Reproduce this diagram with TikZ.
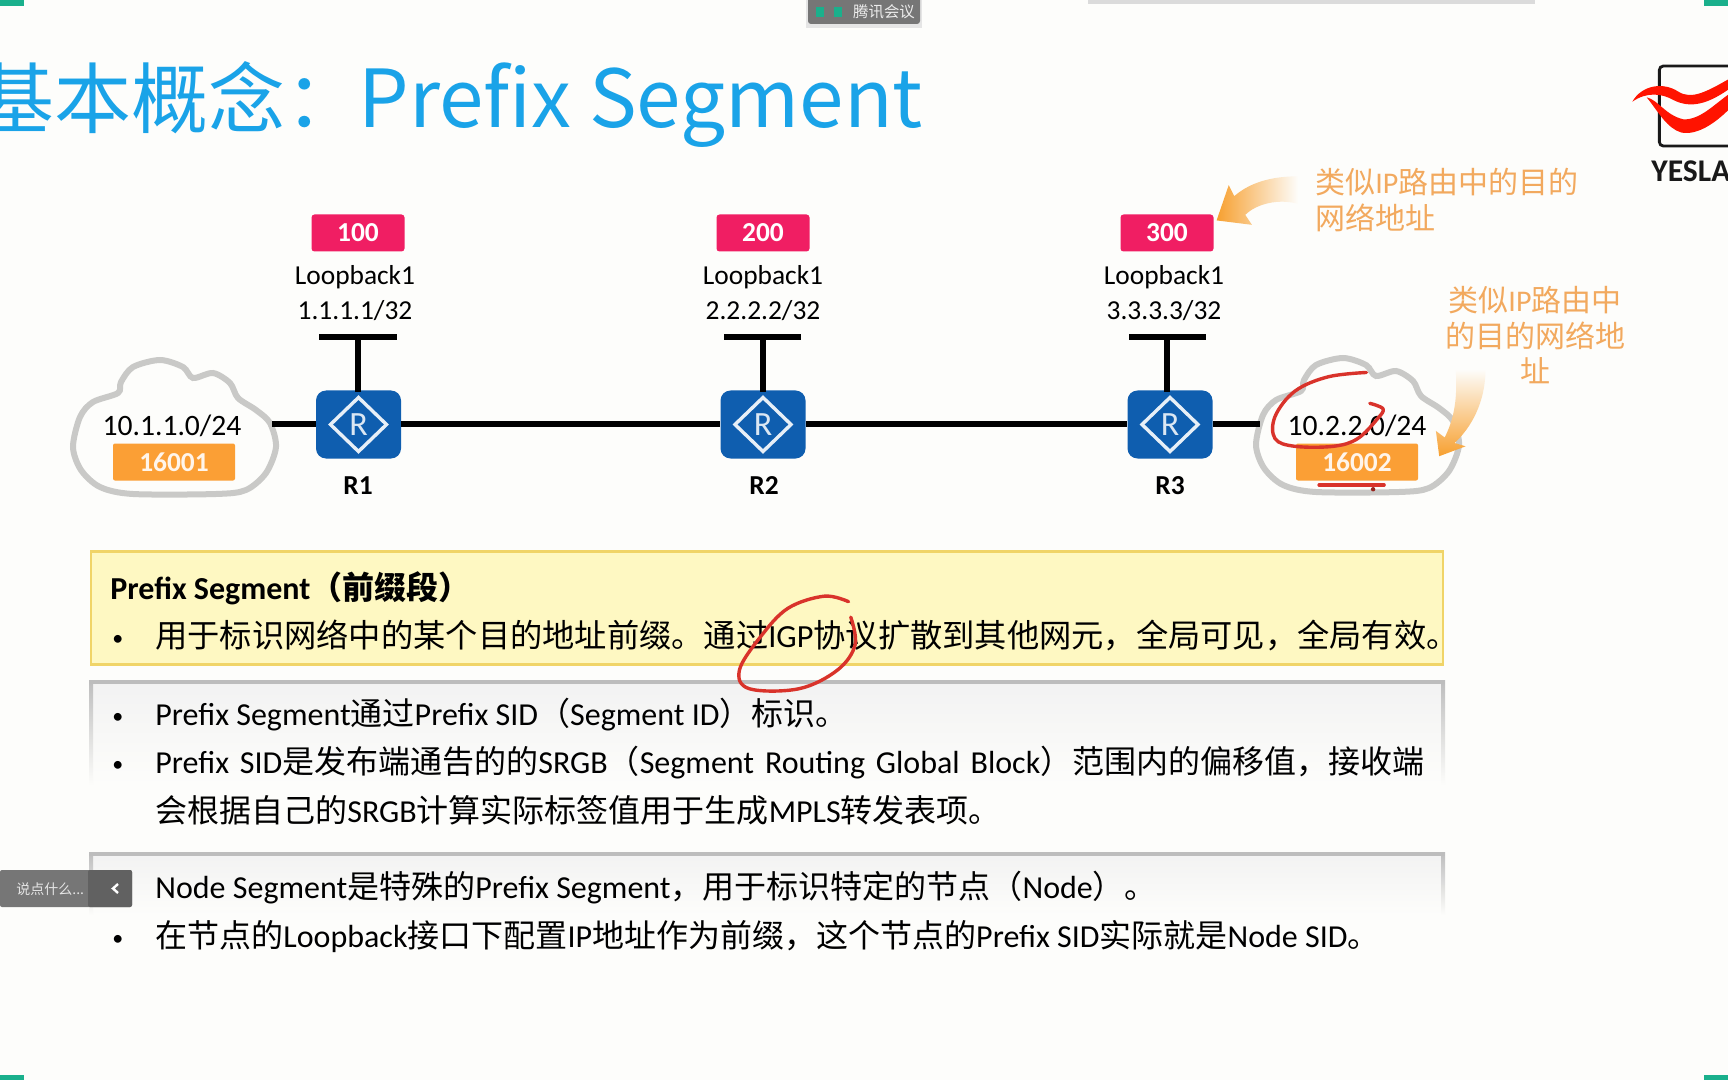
\documentclass[tikz,border=0pt]{standalone}
\usepackage{fontspec}
\setmainfont{Carlito}
\newfontfamily\zhfont{Noto Sans CJK SC}
\newcommand{\zh}[1]{{\zhfont #1}}
\newcommand{\fs}[1]{\fontsize{#1}{#1}\selectfont}
\usetikzlibrary{calc}
\definecolor{pagebg}{HTML}{FDFDFB}
\definecolor{titleblue}{HTML}{1AA3E8}
\definecolor{pinkbox}{HTML}{F01E63}
\definecolor{orangebox}{HTML}{FB9F35}
\definecolor{routerblue}{HTML}{0F5EAF}
\definecolor{cloudgray}{HTML}{C9C9C7}
\definecolor{noteorange}{HTML}{F2A95E}
\definecolor{arroworange}{HTML}{F7A030}
\definecolor{inkred}{HTML}{D9332B}
\definecolor{yellowfill}{HTML}{FEF8C2}
\definecolor{yellowline}{HTML}{F0D468}
\definecolor{panelline}{HTML}{BDBDBD}
\definecolor{panelfill}{HTML}{F2F2F2}
\definecolor{cornergreen}{HTML}{1AB08C}
\definecolor{uigray}{HTML}{767676}
\tikzset{
  x=0.5pt,y=-0.5pt,
  tagpink/.style={fill=pinkbox,rounded corners=1.5pt,inner sep=0,minimum width=46.5pt,minimum height=18.5pt,text=white,font=\fs{13.7}\bfseries},
  tagorange/.style={fill=orangebox,rounded corners=1pt,inner sep=0,minimum width=61pt,minimum height=18.5pt,text=white!92!orange,font=\fs{13.7}\bfseries},
  router/.style={fill=routerblue,rounded corners=5pt,inner sep=0,minimum width=42.5pt,minimum height=34pt,text=white!85!routerblue,font=\fs{17}},
  lbl/.style={inner sep=0,font=\fs{13.7}},
  netlbl/.style={inner sep=0,font=\fs{14.8}},
  rname/.style={inner sep=0,font=\fs{13.7}\bfseries},
  link/.style={line width=3pt,black},
  barline/.style={line width=3.2pt,black},
  body/.style={anchor=base west,inner sep=0,font=\fs{16}},
  dotmark/.style={anchor=base west,inner sep=0,font=\fs{11}},
  note/.style={inner sep=0,text=noteorange,font=\fs{15}\zhfont,align=center},
  ink/.style={draw=inkred,line width=1.7pt,line cap=round,line join=round},
  cloudline/.style={draw=cloudgray,line width=3pt,fill=pagebg},
}
\newcommand{\cloudpath}[2]{%
  \draw[cloudline] plot[smooth cycle,tension=0.5] coordinates {
  ($(#1,#2)+(0,87)$) ($(#1,#2)+(7,57)$) ($(#1,#2)+(20,42)$) ($(#1,#2)+(45,33)$) ($(#1,#2)+(48,22)$)
  ($(#1,#2)+(60,7)$) ($(#1,#2)+(87,0)$) ($(#1,#2)+(110,7)$) ($(#1,#2)+(120,18)$) ($(#1,#2)+(140,13)$)
  ($(#1,#2)+(157,23)$) ($(#1,#2)+(165,38)$) ($(#1,#2)+(183,50)$) ($(#1,#2)+(197,63)$) ($(#1,#2)+(203,87)$)
  ($(#1,#2)+(193,113)$) ($(#1,#2)+(173,130)$) ($(#1,#2)+(143,134)$) ($(#1,#2)+(60,134)$) ($(#1,#2)+(27,127)$) ($(#1,#2)+(8,110)$)};}
\newcommand{\routermark}[1]{%
  \draw[white!90!routerblue,line width=1.7pt,line join=miter] (#1.center) ++(28,0) -- ++(-28,27) -- ++(-28,-27) -- ++(28,-27) -- cycle;}
\newcommand{\panel}[2]{% top y, bottom y
  \shade[top color=panelfill,bottom color=pagebg] (90,#1) rectangle (1444,#2);
  \shade[top color=panelline,bottom color=pagebg] (89,#1) rectangle (93,#2);
  \shade[top color=panelline,bottom color=pagebg] (1441,#1) rectangle (1445,#2);
  \fill[panelline] (89,#1) rectangle (1445,#1+4);}
\begin{document}
\begin{tikzpicture}
\useasboundingbox (0,0) rectangle (1728,1080);
\clip (0,0) rectangle (1728,1080);
\fill[pagebg] (0,0) rectangle (1728,1080);

% title
\node[anchor=base west,inner sep=0,text=titleblue,font=\fs{38.5}\zhfont] (title) at (-23,128) {基本概念：};
\node[anchor=base west,inner sep=0,text=titleblue,font=\fs{40}\zhfont] (titleb) at (358,128) {Prefix Segment};

% logo
\begin{scope}[shift={(1600,50)},x=0.1667pt,y=-0.1667pt]
  \draw[line width=1.4pt,rounded corners=2pt,black!90] (420,48) -- (178,48) -- (178,288) -- (420,288);
  \fill[red!85!orange] (97,155) .. controls (125,105) and (190,95) .. (235,125) .. controls (275,150) and (320,125) .. (390,85) -- (390,115) .. controls (320,165) and (270,175) .. (220,150) .. controls (185,130) and (140,125) .. cycle;
  \fill[red!85!orange] (140,142) .. controls (175,150) and (195,195) .. (250,208) .. controls (300,210) and (340,165) .. (390,130) -- (390,175) .. controls (340,225) and (290,255) .. (245,248) .. controls (200,235) and (175,185) .. cycle;
\end{scope}
\node[anchor=base west,inner sep=0,text=black!90,font=\fs{15.8}\bfseries] (logotext) at (1651,182) {YESLA};

% clouds
\cloudpath{73}{360}
\cloudpath{1256}{358}

% routers
\node[router] (r1) at (358.5,424.5) {R};
\node[router] (r2) at (763,424.5) {R};
\node[router] (r3) at (1170,424.5) {R};
\coordinate (c1e) at (272,423.5);
\coordinate (c2w) at (1260,423.5);
\draw[link] (c1e) -- (r1.west |- c1e);
\draw[link] (r1.east |- c1e) -- (r2.west |- c1e);
\draw[link] (r2.east |- c1e) -- (r3.west |- c1e);
\draw[link] (r3.east |- c1e) -- (c2w);
\routermark{r1}\routermark{r2}\routermark{r3}
\node[rname] (n1) at (358,486) {R1};
\node[rname] (n2) at (764,486) {R2};
\node[rname] (n3) at (1170,486) {R3};

% loopback stubs
\coordinate (b1) at (358,337); \coordinate (b2) at (763,337); \coordinate (b3) at (1167,337);
\draw[barline] (319,337) -- (397,337);
\draw[barline] (724,337) -- (801,337);
\draw[barline] (1129,337) -- (1206,337);
\draw[barline] (b1) -- (358,392);
\draw[barline] (b2) -- (763,392);
\draw[barline] (b3) -- (1167,392);

% tags and labels
\node[tagpink] (t1) at (358,233) {100};
\node[tagpink] (t2) at (763,233) {200};
\node[tagpink] (t3) at (1167,233) {300};
\node[lbl] (l1) at (355,277) {Loopback1};
\node[lbl] (a1) at (355,311) {1.1.1.1/32};
\node[lbl] (l2) at (763,277) {Loopback1};
\node[lbl] (a2) at (763,311) {2.2.2.2/32};
\node[lbl] (l3) at (1164,277) {Loopback1};
\node[lbl] (a3) at (1164,311) {3.3.3.3/32};
\node[netlbl] (p1) at (172,426) {10.1.1.0/24};
\node[netlbl] (p2) at (1357,426) {10.2.2.0/24};
\node[tagorange] (s1) at (174,462) {16001};
\node[tagorange] (s2) at (1357,462) {16002};

% notes
\node[note,anchor=west] (nt1) at (1315,182) {类似{\fontspec{Carlito}IP}路由中的目的};
\node[note,anchor=west] (nt2) at (1315,218) {网络地址};
\node[note] (nt3) at (1535,300) {类似{\fontspec{Carlito}IP}路由中};
\node[note] (nt4) at (1535,336) {的目的网络地};
\node[note] (nt5) at (1535,371) {址};

% main-image coordinates for the free hand marks
\begin{scope}[x=0.551pt,y=-0.551pt]
  \shade[left color=arroworange,right color=pagebg] (1104,200) -- (1115,168) -- (1120,178) .. controls (1135,165) and (1155,160) .. (1178,160) -- (1178,185) .. controls (1160,180) and (1140,185) .. (1130,195) -- (1136,204) -- cycle;
  \shade[top color=pagebg,bottom color=arroworange] (1306,414) -- (1303,391) -- (1311,397) .. controls (1322,375) and (1322,355) .. (1321,335) -- (1348,335) .. controls (1348,365) and (1335,388) .. (1320,402) -- (1330,405) -- cycle;
  \draw[ink] plot[smooth,tension=0.6] coordinates {(1240,338) (1205,342) (1175,355) (1157,378) (1157,398) (1175,405) (1210,405) (1232,398) (1250,380) (1255,371) (1243,366)};
  \draw[ink] (1197,440) -- (1256,440);
  \fill[inkred!70!black] (1246,444) circle (2);
\end{scope}

% yellow box
\node[draw=yellowline,line width=1.2pt,fill=yellowfill,inner sep=0,minimum width=676pt,minimum height=56.5pt] (ybox) at (767,608) {};
\node[body,font=\fs{16}\bfseries] (yhead) at (110,599) {Prefix Segment\zh{（前缀段）}};
\node[dotmark] (yb) at (112,645) {•};
\node[body,font=\fs{16.13}] (y1) at (155,647) {\zh{用于标识网络中的某个目的地址前缀。通过}IGP\zh{协议扩散到其他网元，全局可见，全局有效。}};

% grey panels
\panel{680}{785}
\panel{852}{915}
\node[dotmark] (gb1) at (112,723) {•};
\node[body] (g1) at (155,725) {Prefix Segment\zh{通过}Prefix SID\zh{（}Segment ID\zh{）标识。}};
\node[dotmark] (gb2) at (112,771) {•};
\node[body] (g2) at (155,773) {\hbox to 634.5pt{Prefix SID\zh{是发布端通告的的}SRGB\zh{（}Segment Routing Global Block\zh{）范围内的偏移值，接收端}}};
\node[body] (g3) at (155,822) {\zh{会根据自己的}SRGB\zh{计算实际标签值用于生成}MPLS\zh{转发表项。}};
\node[body] (h1) at (155,898) {Node Segment\zh{是特殊的}Prefix Segment\zh{，用于标识特定的节点（}Node\zh{）。}};
\node[dotmark] (hb2) at (112,945) {•};
\node[body] (h2) at (155,947) {\zh{在节点的}Loopback\zh{接口下配置}IP\zh{地址作为前缀，这个节点的}Prefix SID\zh{实际就是}Node SID\zh{。}};

% red ring
\begin{scope}[x=0.551pt,y=-0.551pt]
  \draw[ink] plot[smooth,tension=0.6] coordinates {(770,546) (748,541) (715,552) (690,578) (671,608) (680,625) (725,625) (760,608) (776,585) (772,560)};
\end{scope}

% screen overlay
\fill[cornergreen] (0,0) rectangle (24,6);
\fill[cornergreen] (1704,0) rectangle (1728,6);
\fill[cornergreen] (0,1075) rectangle (24,1080);
\fill[cornergreen] (1704,1075) rectangle (1728,1080);
\fill[black!14] (1088,0) rectangle (1535,4);
\fill[black!10] (806,0) rectangle (922,28);
\fill[uigray,rounded corners=1.5pt] (808,-6) rectangle (920,24);
\fill[cornergreen] (816,7) rectangle (824,17);
\fill[cornergreen] (834,7) rectangle (842,17);
\node[inner sep=0,text=white!85!gray,font=\fs{7.7}\zhfont] (ui1) at (884,12) {腾讯会议};
\fill[uigray,rounded corners=1pt] (0,870) rectangle (132,907);
\fill[black!62,rounded corners=1pt] (88,870) rectangle (132,907);
\node[anchor=west,inner sep=0,text=white!80!gray,font=\fs{7}\zhfont] (ui2) at (16,889) {说点什么...};
\coordinate (cha) at (118,884); \coordinate (chb) at (113,888.5); \coordinate (chc) at (118,893);
\draw[white,line width=1.2pt] (cha) -- (chb) -- (chc);
\end{tikzpicture}
\end{document}
